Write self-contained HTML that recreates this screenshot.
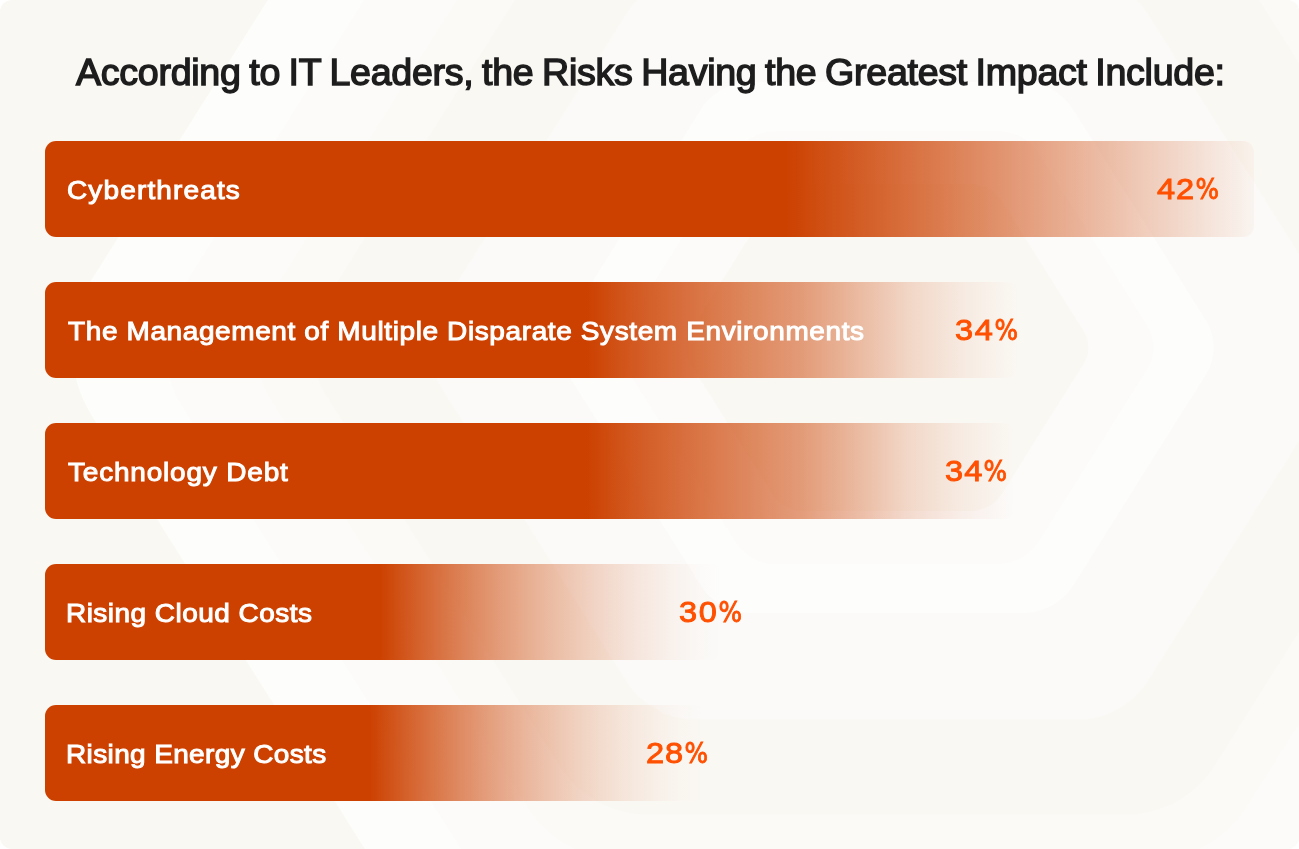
<!DOCTYPE html>
<html><head><meta charset="utf-8">
<style>
html,body{margin:0;padding:0;background:#fff;}
body{width:1299px;height:849px;overflow:hidden;position:relative;font-family:"Liberation Sans",Arial,sans-serif;}
.card{position:absolute;left:0;top:0;width:1299px;height:849px;border-radius:12px;background:#faf8f3;overflow:hidden;}
.bg{position:absolute;left:0;top:0;}
.t{position:absolute;white-space:nowrap;font-weight:400;line-height:1;transform-origin:0 0;}
.title{color:#1d1d1d;font-size:36.5px;-webkit-text-stroke:1.4px #1d1d1d;transform:scaleX(1.03);word-spacing:-1.5px;}
.bar{position:absolute;left:45px;height:96px;border-radius:11px;}
.lab{color:#fff;font-size:25.9px;-webkit-text-stroke:1.0px #fff;transform:scaleX(1.08);}
.pct{color:#ff5000;font-size:29.6px;-webkit-text-stroke:0.9px #ff5000;transform:scaleX(1.1);}
.pc{display:inline-block;font-family:'DejaVu Sans',sans-serif;font-size:28.2px;transform:scaleX(0.8);transform-origin:0 0;}
</style></head>
<body>
<div class="card">
<svg class="bg" width="1299" height="849" viewBox="0 0 1299 849"><path d="M1682.6,280.1 C1708.0,320.6 1708.0,374.4 1682.6,414.9 L1350.4,942.2 C1324.9,982.6 1276.1,1009.5 1228.3,1009.5 L545.7,1009.5 C497.9,1009.5 449.1,982.6 423.6,942.2 L91.4,414.9 C66.0,374.4 66.0,320.6 91.4,280.1 L423.6,-247.2 C449.1,-287.6 497.9,-314.5 545.7,-314.5 L1228.3,-314.5 C1276.1,-314.5 1324.9,-287.6 1350.4,-247.2 Z" fill="#fdfdfc"/><path d="M1591.4,287.9 C1614.0,323.6 1614.0,371.4 1591.4,407.1 L1297.3,874.0 C1274.7,909.8 1231.5,933.7 1189.2,933.7 L584.8,933.7 C542.5,933.7 499.3,909.8 476.7,874.0 L182.6,407.1 C160.0,371.4 160.0,323.6 182.6,287.9 L476.7,-179.0 C499.3,-214.8 542.5,-238.7 584.8,-238.7 L1189.2,-238.7 C1231.5,-238.7 1274.7,-214.8 1297.3,-179.0 Z" fill="#fcfbf9"/><path d="M1503.1,295.3 C1522.9,326.6 1522.9,368.4 1503.1,399.7 L1245.9,808.0 C1226.1,839.3 1188.3,860.2 1151.3,860.2 L622.7,860.2 C585.7,860.2 547.9,839.3 528.1,808.0 L270.9,399.7 C251.1,368.4 251.1,326.6 270.9,295.3 L528.1,-113.0 C547.9,-144.3 585.7,-165.2 622.7,-165.2 L1151.3,-165.2 C1188.3,-165.2 1226.1,-144.3 1245.9,-113.0 Z" fill="#fbfaf7"/><path d="M1448.1,300.0 C1466.0,328.5 1466.0,366.5 1448.1,395.0 L1213.8,766.9 C1195.8,795.4 1161.4,814.4 1127.7,814.4 L646.3,814.4 C612.6,814.4 578.2,795.4 560.2,766.9 L325.9,395.0 C308.0,366.5 308.0,328.5 325.9,300.0 L560.2,-71.9 C578.2,-100.4 612.6,-119.4 646.3,-119.4 L1127.7,-119.4 C1161.4,-119.4 1195.8,-100.4 1213.8,-71.9 Z" fill="#faf8f3"/><path d="M1334.1,309.6 C1348.5,332.4 1348.5,362.6 1334.1,385.4 L1147.4,681.7 C1133.1,704.4 1105.7,719.6 1078.8,719.6 L695.2,719.6 C668.3,719.6 640.9,704.4 626.6,681.7 L439.9,385.4 C425.5,362.6 425.5,332.4 439.9,309.6 L626.6,13.3 C640.9,-9.4 668.3,-24.6 695.2,-24.6 L1078.8,-24.6 C1105.7,-24.6 1133.1,-9.4 1147.4,13.3 Z" fill="#fbfaf8"/><path d="M1206.0,320.5 C1216.2,336.7 1216.2,358.3 1206.0,374.5 L1072.8,585.9 C1062.6,602.1 1043.0,612.9 1023.9,612.9 L750.1,612.9 C731.0,612.9 711.4,602.1 701.2,585.9 L568.0,374.5 C557.8,358.3 557.8,336.7 568.0,320.5 L701.2,109.1 C711.4,92.9 731.0,82.1 750.1,82.1 L1023.9,82.1 C1043.0,82.1 1062.6,92.9 1072.8,109.1 Z" fill="#fdfdfc"/><path d="M1147.1,325.5 C1155.5,338.7 1155.5,356.3 1147.1,369.5 L1038.5,541.9 C1030.2,555.2 1014.2,564.0 998.6,564.0 L775.4,564.0 C759.8,564.0 743.8,555.2 735.5,541.9 L626.9,369.5 C618.5,356.3 618.5,338.7 626.9,325.5 L735.5,153.1 C743.8,139.8 759.8,131.0 775.4,131.0 L998.6,131.0 C1014.2,131.0 1030.2,139.8 1038.5,153.1 Z" fill="#fcfbfa"/><path d="M1083.5,330.9 C1089.8,340.8 1089.8,354.2 1083.5,364.1 L1001.5,494.4 C995.2,504.4 983.1,511.0 971.3,511.0 L802.7,511.0 C790.9,511.0 778.8,504.4 772.5,494.4 L690.5,364.1 C684.2,354.2 684.2,340.8 690.5,330.9 L772.5,200.6 C778.8,190.6 790.9,184.0 802.7,184.0 L971.3,184.0 C983.1,184.0 995.2,190.6 1001.5,200.6 Z" fill="#faf8f3"/></svg>
<div class="t title" style="left:76.1px;top:54.8px;letter-spacing:-0.277px">According to IT Leaders, the Risks Having the Greatest Impact Include:</div>
<div class="bar" style="top:141px;width:1209px;background:linear-gradient(90deg,#cc4100 61.29%,rgba(204,65,0,0.939) 63.71%,rgba(204,65,0,0.879) 66.13%,rgba(204,65,0,0.818) 68.55%,rgba(204,65,0,0.758) 70.97%,rgba(204,65,0,0.697) 73.39%,rgba(204,65,0,0.636) 75.81%,rgba(204,65,0,0.576) 78.23%,rgba(204,65,0,0.515) 80.65%,rgba(204,65,0,0.454) 83.06%,rgba(204,65,0,0.394) 85.48%,rgba(204,65,0,0.333) 87.90%,rgba(204,65,0,0.272) 90.32%,rgba(204,65,0,0.212) 92.74%,rgba(204,65,0,0.151) 95.16%,rgba(204,65,0,0.091) 97.58%,rgba(204,65,0,0.030) 100.00%)"></div>
<div class="bar" style="top:282px;width:974px;background:linear-gradient(90deg,#cc4100 55.65%,rgba(204,65,0,0.890) 59.55%,rgba(204,65,0,0.760) 65.30%,rgba(204,65,0,0.645) 70.94%,rgba(204,65,0,0.510) 77.62%,rgba(204,65,0,0.350) 83.16%,rgba(204,65,0,0.180) 88.91%,rgba(204,65,0,0.070) 94.56%,rgba(204,65,0,0.020) 98.36%,rgba(204,65,0,0.000) 100.00%)"></div>
<div class="bar" style="top:423px;width:970px;background:linear-gradient(90deg,#cc4100 55.88%,rgba(204,65,0,0.890) 59.79%,rgba(204,65,0,0.760) 65.57%,rgba(204,65,0,0.645) 71.24%,rgba(204,65,0,0.510) 77.94%,rgba(204,65,0,0.350) 83.51%,rgba(204,65,0,0.180) 88.87%,rgba(204,65,0,0.070) 94.54%,rgba(204,65,0,0.020) 98.35%,rgba(204,65,0,0.000) 100.00%)"></div>
<div class="bar" style="top:564px;width:678px;background:linear-gradient(90deg,#cc4100 49.41%,rgba(204,65,0,0.902) 52.57%,rgba(204,65,0,0.808) 55.73%,rgba(204,65,0,0.717) 58.90%,rgba(204,65,0,0.631) 62.06%,rgba(204,65,0,0.549) 65.22%,rgba(204,65,0,0.471) 68.38%,rgba(204,65,0,0.398) 71.54%,rgba(204,65,0,0.330) 74.71%,rgba(204,65,0,0.266) 77.87%,rgba(204,65,0,0.208) 81.03%,rgba(204,65,0,0.156) 84.19%,rgba(204,65,0,0.109) 87.35%,rgba(204,65,0,0.069) 90.51%,rgba(204,65,0,0.036) 93.68%,rgba(204,65,0,0.012) 96.84%,rgba(204,65,0,0.000) 100.00%)"></div>
<div class="bar" style="top:705px;width:660px;background:linear-gradient(90deg,#cc4100 49.24%,rgba(204,65,0,0.902) 52.41%,rgba(204,65,0,0.808) 55.59%,rgba(204,65,0,0.717) 58.76%,rgba(204,65,0,0.631) 61.93%,rgba(204,65,0,0.549) 65.10%,rgba(204,65,0,0.471) 68.28%,rgba(204,65,0,0.398) 71.45%,rgba(204,65,0,0.330) 74.62%,rgba(204,65,0,0.266) 77.79%,rgba(204,65,0,0.208) 80.97%,rgba(204,65,0,0.156) 84.14%,rgba(204,65,0,0.109) 87.31%,rgba(204,65,0,0.069) 90.48%,rgba(204,65,0,0.036) 93.66%,rgba(204,65,0,0.012) 96.83%,rgba(204,65,0,0.000) 100.00%)"></div>
<div class="t lab" style="left:66.51px;top:178.1px;letter-spacing:1.073px">Cyberthreats</div>
<div class="t lab" style="left:68.14px;top:319.1px;letter-spacing:0.581px">The Management of Multiple Disparate System Environments</div>
<div class="t lab" style="left:67.93px;top:460.1px;letter-spacing:0.76px">Technology Debt</div>
<div class="t lab" style="left:66.4px;top:601.1px;letter-spacing:0.446px">Rising Cloud Costs</div>
<div class="t lab" style="left:66.4px;top:742.1px;letter-spacing:0.355px">Rising Energy Costs</div>
<div class="t pct" style="left:1157.01px;top:174.15px;letter-spacing:0.815px">42<span class="pc">%</span></div>
<div class="t pct" style="left:955.49px;top:315.15px;letter-spacing:1.398px">34<span class="pc">%</span></div>
<div class="t pct" style="left:945.47px;top:456.15px;letter-spacing:1.116px">34<span class="pc">%</span></div>
<div class="t pct" style="left:679.18px;top:597.15px;letter-spacing:1.492px">30<span class="pc">%</span></div>
<div class="t pct" style="left:646.25px;top:738.15px;letter-spacing:0.885px">28<span class="pc">%</span></div>
</div>
</body></html>
